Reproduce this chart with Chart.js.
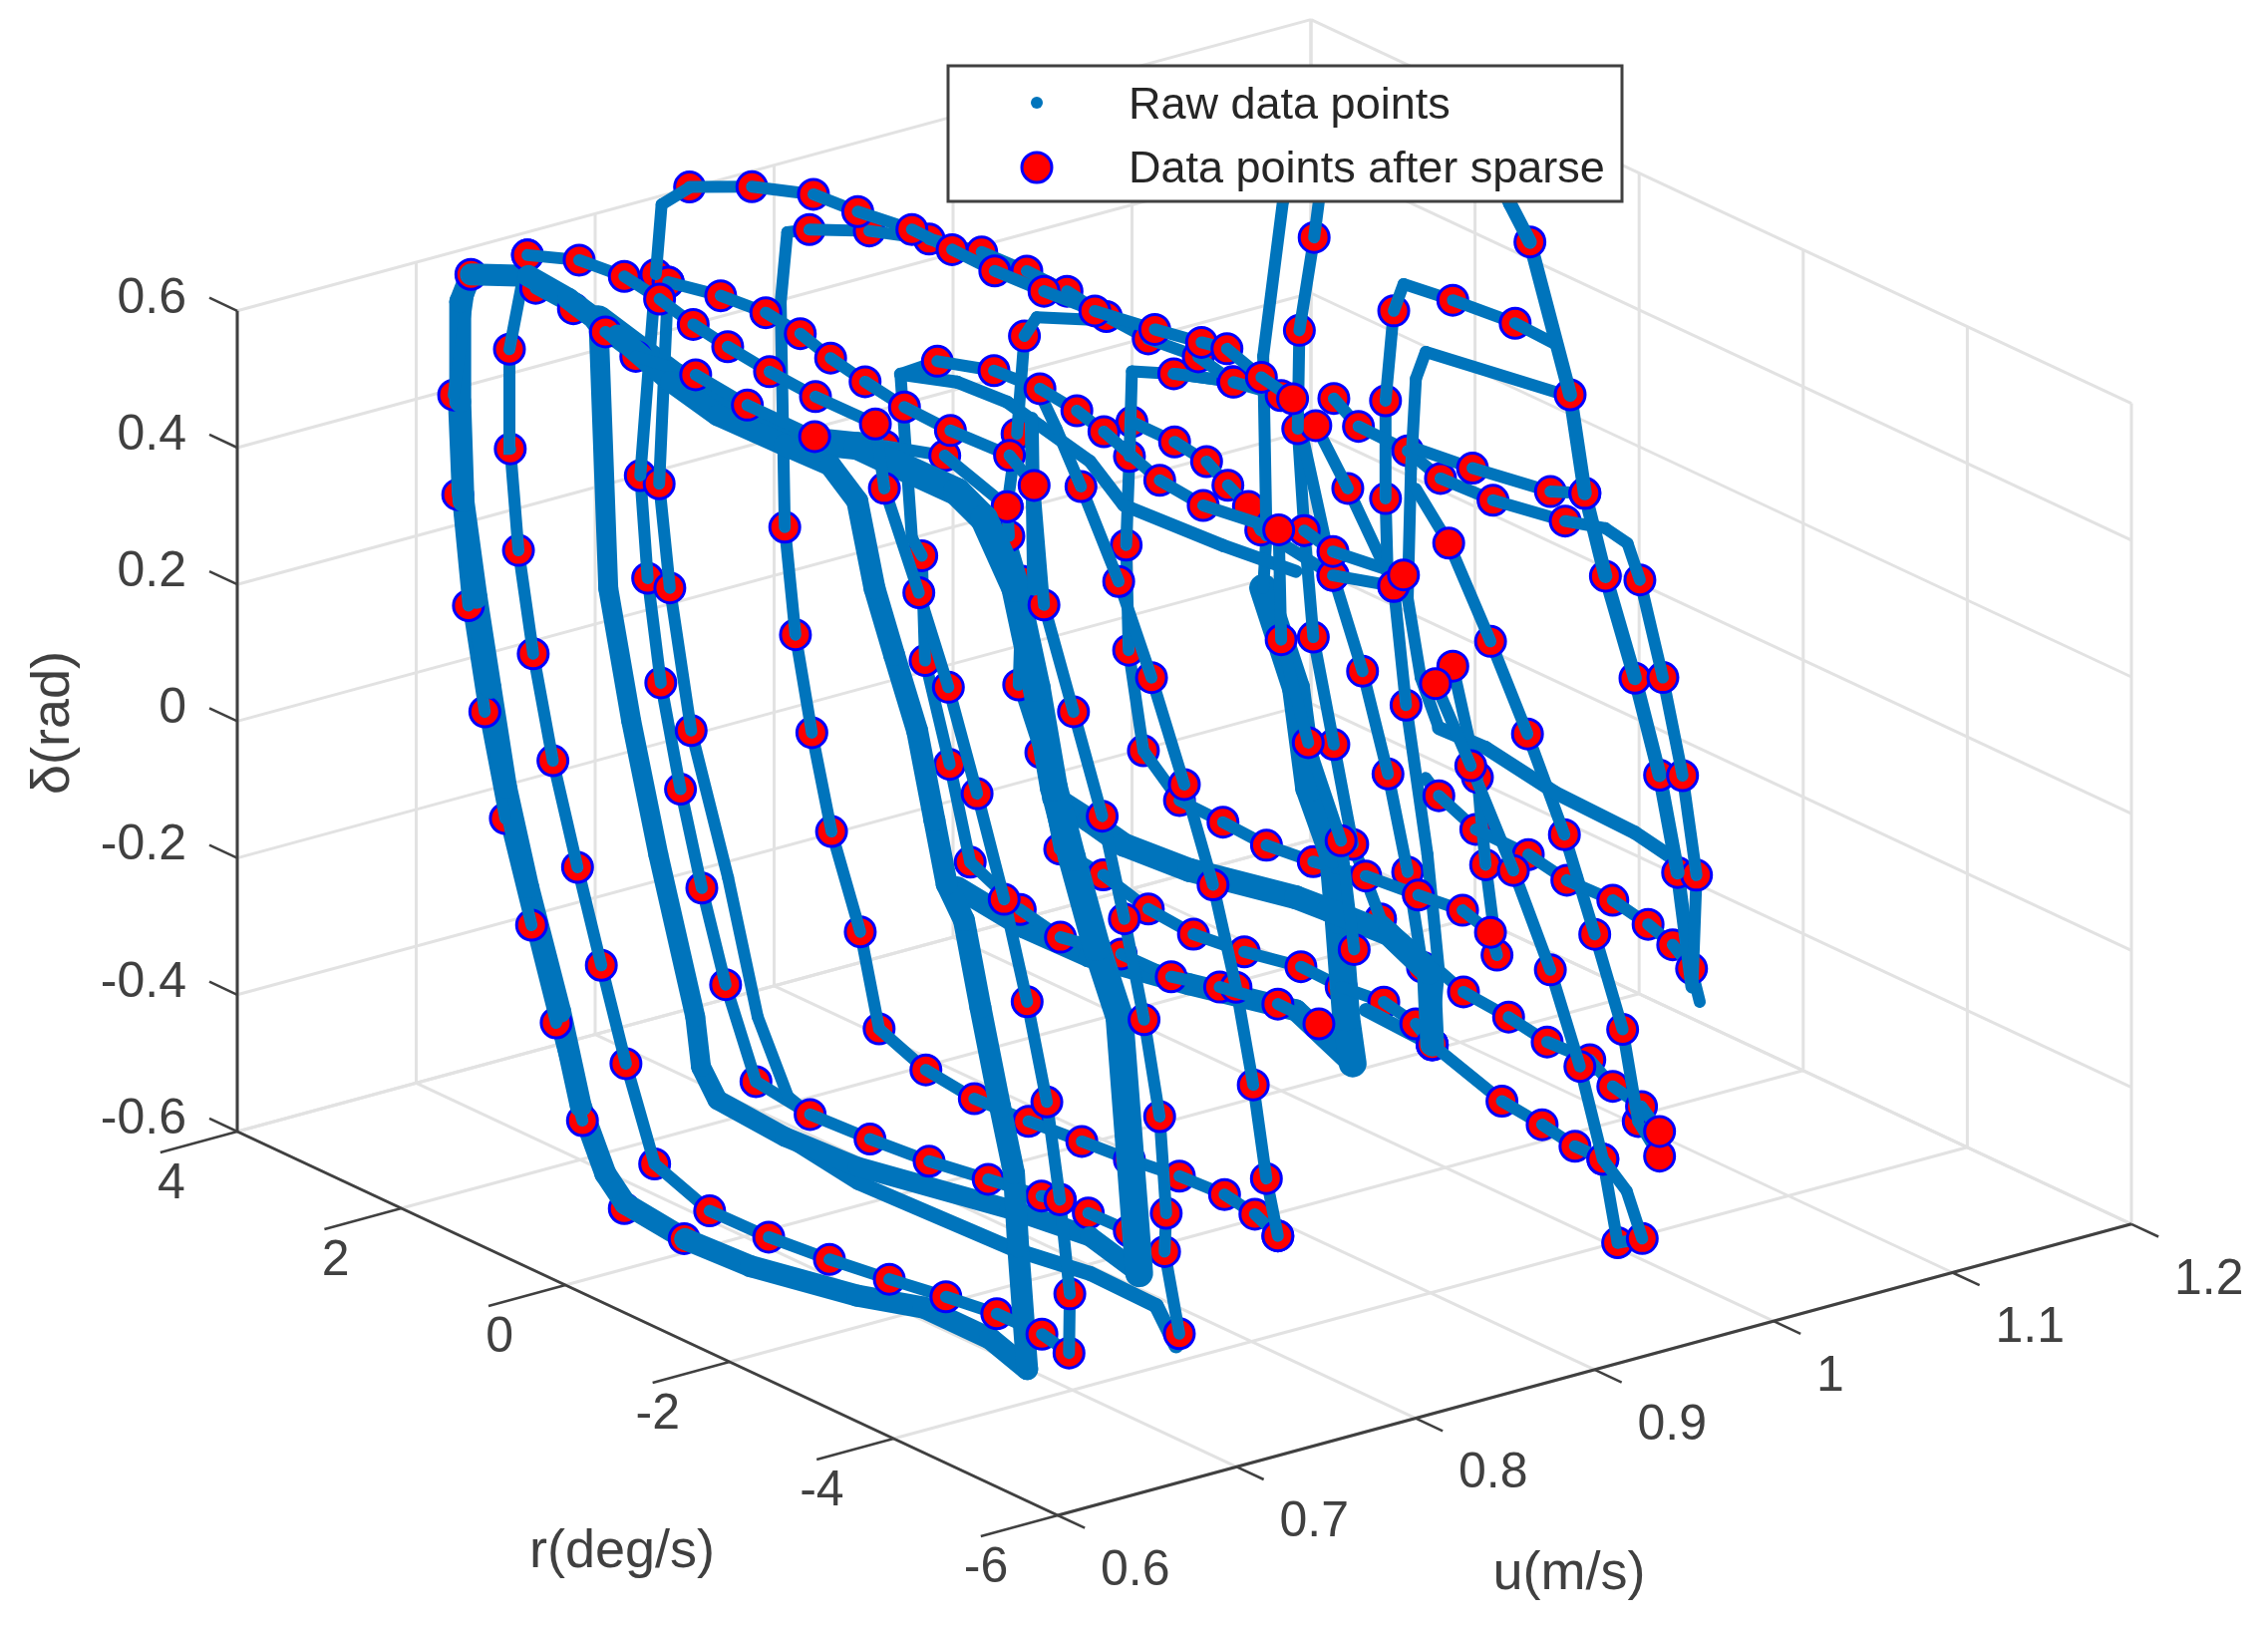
<!DOCTYPE html>
<html>
<head>
<meta charset="utf-8">
<title>Raw data points and data points after sparse</title>
<script src="https://cdn.jsdelivr.net/npm/chart.js@4"></script>
<style>
  html, body { margin: 0; background: #fff; }
  canvas { display: block; }
</style>
</head>
<body>
<canvas id="chart" width="2275" height="1636"></canvas>
<script>
// tick labels
const uTicks = [0.6, 0.7, 0.8, 0.9, 1, 1.1, 1.2];
const rTicks = [-6, -4, -2, 0, 2, 4];
const deltaTicks = [-0.6, -0.4, -0.2, 0, 0.2, 0.4, 0.6];

// trajectories, every one is a list of [r, delta]
const bandA = [[3.77,.581],[3.90,.534],[3.90,.388],[3.86,.244],[3.70,.112],[3.53,-.010],[3.34,-.145],[3.07,-.276],[2.68,-.436],[2.43,-.560],[2.13,-.642],[1.89,-.672],[1.16,-.683],[.36,-.678],[-.94,-.648],[-1.75,-.620],[-2.56,-.620],[-3.01,-.639],[-2.90,-.466],[-2.85,-.362],[-2.68,-.274],[-2.44,-.142],[-2.24,-.026],[-2.03,.015],[-1.88,.100],[-1.67,.219],[-1.39,.314],[-1.15,.398],[-.94,.514],[-.61,.548],[-.05,.546],[.76,.544],[1.33,.561],[1.98,.592],[2.58,.612],[3.07,.618],[3.77,.581]];
const redA = [[3.77,.581],[3.98,.393],[3.93,.250],[3.80,.095],[3.60,-.049],[3.35,-.191],[3.03,-.329],[2.73,-.455],[2.41,-.580],[1.90,-.680],[1.17,-.683]];
const redA2 = [[2.98,.605],[2.52,.601],[2.13,.589],[1.76,.574],[1.03,.588],[.40,.579],[-.42,.579]];
const loopB = [[3.08,.648],[2.45,.676],[1.90,.683],[1.47,.674],[1.06,.660],[.64,.651],[.13,.643],[-.43,.638],[-1.16,.639],[-1.27,.551],[-1.69,.422],[-2.05,.304],[-2.40,.168],[-2.73,.032],[-3.01,-.102],[-3.25,-.235],[-3.41,-.369],[-3.53,-.500],[-3.52,-.587],[-3.19,-.578],[-2.64,-.579],[-2.02,-.589],[-1.33,-.602],[-.60,-.614],[.14,-.623],[.86,-.625],[1.53,-.594],[1.88,-.467],[2.18,-.340],[2.47,-.213],[2.77,-.074],[3.01,.069],[3.19,.210],[3.29,.353],[3.30,.498],[3.08,.648]];

const bandC = [[3.96,.448],[3.84,.061],[3.56,-.117],[3.23,-.294],[2.78,-.506],[2.71,-.575],[2.51,-.612],[1.69,-.620],[.80,-.614],[-1.05,-.572],[-2.03,-.557],[-2.63,-.577]];
const bandC2 = [[1.69,-.620],[.80,-.637],[-1.10,-.628],[-2.03,-.611],[-2.84,-.613],[-3.08,-.658]];
const bandC3 = [[-2.63,-.577],[-2.39,-.216],[-2.11,-.129],[-1.81,-.015],[-1.59,.075],[-1.38,.209],[-1.12,.340],[-.74,.420],[-.41,.441],[.40,.440],[.80,.440],[1.69,.401],[2.99,.415],[3.96,.448]];
const branchC = [[-1.32,.599],[-1.35,.352]];
const edgeD = [[-2.51,-.522],[-2.01,-.524],[-1.67,-.523],[-1.44,-.531],[-.79,-.543],[-.07,-.557],[.65,-.565],[1.38,-.570],[2.04,-.559],[2.41,-.438],[2.70,-.313],[2.96,-.183],[3.20,-.041],[3.36,.103],[3.45,.248],[3.26,.553]];
const cornerD = [[3.26,.553],[3.19,.659],[2.85,.703]];
const topT = [[3.94,.607],[3.18,.650],[2.43,.681],[1.89,.686],[1.23,.697],[.74,.695],[.22,.693],[-.38,.697],[-1.00,.703],[-1.73,.717],[-2.30,.730],[-2.61,.738],[-3.03,.720],[-3.41,.710]];
const edgeE = [[3.11,.550],[3.22,.249],[3.09,.104],[2.83,-.090]];
const edgeEtail = [[2.83,-.090],[2.38,-.280],[2.02,-.463],[1.65,-.559],[1.38,-.570]];
const topF = [[3.11,.550],[2.47,.566],[1.92,.572],[1.50,.565],[1.13,.550],[.71,.539],[.23,.529],[-.33,.526],[-1.05,.530],[-1.35,.503],[-1.47,.335],[-1.83,.199],[-2.18,.066],[-2.45,-.069],[-2.69,-.203],[-2.88,-.334],[-2.96,-.471],[-2.94,-.528],[-3.12,-.638]];

const cornerG = [[3.57,.530],[3.84,.511],[3.92,.404],[3.87,.078]];
const edgeG = [[3.87,.078],[3.74,-.072],[3.54,-.204],[3.30,-.335],[2.95,-.462],[2.72,-.591],[2.15,-.619],[1.56,-.628],[.90,-.624],[.25,-.617],[-.33,-.611],[-.94,-.601],[-1.49,-.597],[-1.86,-.605],[-2.14,-.621]];
const topG = [[3.57,.530],[2.84,.569],[2.11,.598],[1.47,.615],[.92,.618],[.43,.616],[-.05,.606],[-.56,.602],[-1.17,.610],[-1.60,.597],[-2.18,.610]];
const rightG = [[-2.14,-.621],[-2.00,-.545],[-1.84,-.417],[-1.63,-.286],[-1.35,-.152],[-1.00,-.025],[-.60,.109],[-.20,.227],[.26,.340]];
const rightGtail = [[.26,.340],[.56,.408],[.76,.448]];
const cornerH = [[2.01,.425],[2.46,.381],[2.32,.149],[2.20,.130]];
const topH = [[2.01,.425],[1.32,.450],[.76,.455],[.31,.448],[-.02,.436],[-.70,.403],[-1.23,.396],[-2.15,.412],[-2.18,.253],[-2.51,.121],[-2.91,.000],[-3.07,-.150]];
const edgeH = [[2.20,.130],[2.16,-.021],[1.86,-.156],[1.61,-.285],[1.00,-.320],[.51,-.333],[-.23,-.316],[-.84,-.315],[-1.43,-.297],[-2.14,-.282],[-2.64,-.283]];
const shortH = [[2.65,.265],[1.92,.292],[1.16,.260]];
const topBandH = [[2.46,.381],[1.77,.408],[1.16,.413],[.76,.401],[.15,.383],[-.26,.342],[-1.47,.351],[-2.36,.363]];

const bandI = [[3.95,-.524],[3.14,-.537],[2.34,-.535],[1.12,-.507],[-.18,-.472],[-.87,-.511]];
const bandIup = [[-.87,-.511],[-.79,-.448],[-.70,-.311],[-.63,-.219],[-.34,-.138],[-.18,-.001],[.22,.123]];
const bandIthin = [[.22,.123],[.18,.202],[.22,.462],[-.02,.701],[-.09,.782]];
const cornerK = [[2.37,.395],[2.98,.364],[3.13,.328]];
const edgeK = [[3.13,.328],[3.22,.180],[3.34,.067],[3.32,.025],[3.16,-.032],[3.20,-.186],[2.93,-.270],[2.70,-.398],[2.17,-.406],[1.62,-.425],[1.07,-.431],[.45,-.422],[-.24,-.405],[-.73,-.407],[-1.25,-.400],[-1.64,-.410],[-1.84,-.429]];
const bottomK = [[-1.84,-.429],[-2.69,-.464],[-3.18,-.471],[-3.58,-.480],[-3.92,-.480]];
const bottomKhead = [[-1.03,-.424],[-1.84,-.429]];
const bottomKtail = [[-3.92,-.480],[-4.21,-.510],[-4.40,-.569]];
const cornerL = [[.59,.404],[1.31,.375],[1.82,.350],[1.85,.224]];
const edgeL = [[1.85,.224],[1.89,.092],[1.86,-.060],[1.68,-.197],[1.24,-.245],[.71,-.247],[.18,-.251],[-.39,-.243],[-1.03,-.228],[-1.67,-.220],[-2.21,-.212],[-2.55,-.225],[-2.63,-.254]];
const topL = [[1.31,.375],[.59,.404]];
const topM = [[1.82,.276],[1.30,.276],[.91,.269],[.65,.249],[.40,.232],[.25,.206],[-.63,.189],[-1.37,.215]];
const topN = [[-.28,.235],[-.63,.224],[-1.49,.238]];
const bandO = [[2.77,-.327],[2.34,-.336],[1.92,-.348],[1.12,-.340],[-.18,-.307],[-.58,-.303],[-1.31,-.297],[-1.80,-.326],[-1.84,-.429]];
const edgeS = [[-1.88,.101],[-2.31,.005],[-2.83,-.119],[-3.28,-.239],[-3.64,-.360],[-3.92,-.480],[-4.10,-.592],[-4.40,-.569]];

const tallHead = [[1.64,.614],[1.78,.477]];
const tallP = [[1.78,.477],[1.96,.331],[1.98,.186],[1.90,.042],[1.79,-.108],[1.54,-.251],[1.31,-.384],[.97,-.474],[-.04,-.524],[-.59,-.530],[-1.06,-.540],[-1.58,-.537],[-1.86,-.560],[-2.21,-.570],[-2.43,-.594]];
const edgeQhead = [[1.94,.188],[1.55,-.004]];
const edgeQ = [[1.55,-.004],[1.19,-.124],[.88,-.257],[.64,-.387],[.46,-.516],[.34,-.623]];
const edgeR = [[1.76,.203],[1.37,.133],[.81,.021],[.66,-.144]];
const edgeRtail = [[.66,-.144],[.40,-.347],[.26,-.509],[.34,-.623]];
const cornerS = [[.09,.480],[.69,.470],[.81,.424]];
const edgeS2 = [[.81,.424],[.91,.287],[.91,.144]];
const edgeS2tail = [[.91,.144],[.88,.014]];
const topS = [[.09,.480],[-.67,.489]];
const topStail = [[-.67,.489],[-1.16,.486]];
const rightHead = [[-.31,.723],[-.61,.660],[-.85,.618]];
const rightW = [[-.85,.618],[-1.34,.422],[-1.52,.288],[-1.77,.181],[-2.13,.052],[-2.43,-.073],[-2.65,-.203]];
const rightWtail = [[-2.65,-.203],[-2.83,-.360]];
const topY = [[1.54,.255],[1.24,.231],[.64,.229],[.24,.211],[-.40,.215],[-1.28,.234]];
const topYturn = [[-1.28,.234],[-1.77,.251],[-2.04,.244],[-2.19,.199]];
const rightY = [[-2.19,.199],[-2.47,.072],[-2.71,-.058],[-2.88,-.194]];
const rightYtail = [[-2.88,-.194],[-2.83,-.360]];
const topZhead = [[.54,.238],[-.15,.248]];
const topZ = [[-.15,.248],[-1.10,.267],[-1.52,.288]];
const stepN = [[-1.32,.419],[.42,.386],[.54,.340],[.60,.205],[.64,.013],[.48,-.094],[.26,-.155]];
const stepNband = [[.26,-.155],[-.31,-.152],[-1.16,-.170],[-2.13,-.174],[-2.62,-.186]];
const edgeJhead = [[.54,.179],[.14,.122]];
const edgeJ = [[.14,.122],[-.37,.007],[-.82,-.103],[-1.27,-.225],[-1.64,-.350],[-1.98,-.470],[-2.17,-.594],[-2.43,-.630]];
const edgeV = [[.09,-.055],[-.21,-.201],[-.31,-.323]];
const edgeVtail = [[-.31,-.323],[-.45,-.447]];
const bottomIhead = [[.42,-.237],[.26,-.254]];
const bottomI = [[.26,-.254],[-.19,-.278],[-.83,-.279],[-1.30,-.290],[-1.86,-.288],[-2.29,-.299],[-2.59,-.312],[-2.82,-.334]];
const bottomItail = [[-2.82,-.334],[-2.92,-.377]];

const legendLabels = ["Raw data points", "Data points after sparse"];

// list, u, line width, carries sparse markers
const chains = [
  [bandA, 0.72, 22, false], [redA, 0.72, 12, true], [redA2, 0.72, 12, true], [loopB, 0.72, 12, true],
  [bandC, 0.8, 20, false], [bandC2, 0.8, 15, false], [bandC3, 0.8, 28, false], [branchC, 0.8, 14, false],
  [edgeD, 0.8, 12, true], [cornerD, 0.8, 12, false], [topT, 0.85, 12, true],
  [edgeE, 0.8, 12, true], [edgeEtail, 0.8, 12, false], [topF, 0.8, 12, true],
  [cornerG, 0.9, 12, false], [edgeG, 0.9, 12, true], [topG, 0.9, 12, true], [rightG, 0.9, 12, true], [rightGtail, 0.9, 12, false],
  [cornerH, 0.9, 12, false], [topH, 0.9, 12, true], [edgeH, 0.9, 12, true], [shortH, 0.9, 12, true], [topBandH, 0.9, 13, false],
  [bandI, 1, 22, false], [bandIup, 1, 28, false], [bandIthin, 1, 12, false],
  [cornerK, 1, 12, false], [edgeK, 1, 12, true], [bottomK, 1, 12, true], [bottomKhead, 1, 14, false], [bottomKtail, 1, 12, false],
  [cornerL, 1, 12, false], [edgeL, 1, 12, true], [topL, 1, 12, true], [topM, 1, 12, true], [topN, 1, 12, true],
  [bandO, 1, 24, false], [edgeS, 1, 12, true],
  [tallHead, 1.1, 12, false], [tallP, 1.1, 12, true], [edgeQhead, 1.1, 12, false], [edgeQ, 1.1, 12, true],
  [edgeR, 1.1, 12, true], [edgeRtail, 1.1, 12, false], [cornerS, 1.1, 12, false], [edgeS2, 1.1, 12, true], [edgeS2tail, 1.1, 12, false],
  [topS, 1.1, 12, true], [topStail, 1.1, 12, false], [rightHead, 1.1, 14, false], [rightW, 1.1, 14, true], [rightWtail, 1.1, 14, false],
  [topY, 1.1, 12, true], [topYturn, 1.1, 12, false], [rightY, 1.1, 12, true], [rightYtail, 1.1, 12, false],
  [topZhead, 1.1, 12, false], [topZ, 1.1, 12, true], [stepN, 1.1, 12, false], [stepNband, 1.1, 14, false],
  [edgeJhead, 1.1, 12, false], [edgeJ, 1.1, 12, true], [edgeV, 1.1, 12, true], [edgeVtail, 1.1, 12, false],
  [bottomIhead, 1.1, 12, false], [bottomI, 1.1, 12, true], [bottomItail, 1.1, 12, false]
];

const BLUE = "#0074bc";
const AXIS = "#404040";
const GRID = "#e2e2e2";

// MATLAB style view of the box, turned into the flat plane the chart scales work in
function planeX(u, r) {
  return 238 + 1795 * (u - 0.6) + 82.3 * (4 - r);
}
function planeY(u, r, d) {
  return 1135 - 487 * (u - 0.6) + 38.5 * (4 - r) - 686 * (d + 0.6);
}
// bigger is nearer to the viewer
function nearness(u, r, d) {
  return -(u - 0.6) / 0.6 - (r + 6) / 10 + 0.8 * (d + 0.6) / 1.2;
}

const marks = [];
chains.forEach(([pts, u, width, sparse]) => {
  for (let i = 0; i + 1 < pts.length; i++) {
    const a = pts[i], b = pts[i + 1];
    marks.push({
      near: nearness(u, (a[0] + b[0]) / 2, (a[1] + b[1]) / 2),
      set: {
        label: legendLabels[0],
        showLine: true,
        borderColor: BLUE,
        borderWidth: width,
        borderCapStyle: "round",
        pointRadius: 0,
        data: [a, b].map(p => ({ x: planeX(u, p[0]), y: planeY(u, p[0], p[1]) }))
      }
    });
  }
  if (sparse) {
    pts.forEach(p => {
      marks.push({
        near: nearness(u, p[0], p[1]),
        set: {
          label: legendLabels[1],
          showLine: false,
          pointRadius: 15,
          pointBackgroundColor: "#ff0000",
          pointBorderColor: "#0000ff",
          pointBorderWidth: 3,
          data: [{ x: planeX(u, p[0]), y: planeY(u, p[0], p[1]) }]
        }
      });
    });
  }
});
// first dataset ends up on top
marks.sort((a, b) => b.near - a.near);

function drawSegment(ctx, scales, a, b) {
  ctx.beginPath();
  ctx.moveTo(scales.x.getPixelForValue(a[0]), scales.y.getPixelForValue(a[1]));
  ctx.lineTo(scales.x.getPixelForValue(b[0]), scales.y.getPixelForValue(b[1]));
  ctx.stroke();
}

const boxGrid = {
  id: "boxGrid",
  beforeDatasetsDraw(chart) {
    const { ctx, scales } = chart;
    const line = (a, b) => drawSegment(ctx, scales,
      [planeX(a[0], a[1]), planeY(a[0], a[1], a[2])],
      [planeX(b[0], b[1]), planeY(b[0], b[1], b[2])]);
    ctx.save();
    ctx.strokeStyle = GRID;
    ctx.lineWidth = 3;
    uTicks.forEach(u => {
      line([u, -6, -0.6], [u, 4, -0.6]);
      line([u, 4, -0.6], [u, 4, 0.6]);
    });
    rTicks.forEach(r => {
      line([0.6, r, -0.6], [1.2, r, -0.6]);
      line([1.2, r, -0.6], [1.2, r, 0.6]);
    });
    deltaTicks.forEach(d => {
      line([0.6, 4, d], [1.2, 4, d]);
      line([1.2, 4, d], [1.2, -6, d]);
    });
    ctx.restore();
  }
};

const boxAxes = {
  id: "boxAxes",
  afterDatasetsDraw(chart) {
    const { ctx, scales } = chart;
    const at = (u, r, d) => [planeX(u, r), planeY(u, r, d)];
    const line = (a, b) => drawSegment(ctx, scales, a, b);
    const text = (str, p, dx, dy, align) => {
      ctx.textAlign = align;
      ctx.fillText(str, scales.x.getPixelForValue(p[0]) + dx, scales.y.getPixelForValue(p[1]) + dy);
    };
    ctx.save();
    ctx.strokeStyle = AXIS;
    ctx.fillStyle = AXIS;
    ctx.lineWidth = 3;
    line(at(0.6, 4, -0.6), at(0.6, 4, 0.6));
    line(at(0.6, 4, -0.6), at(0.6, -6, -0.6));
    line(at(0.6, -6, -0.6), at(1.2, -6, -0.6));
    ctx.lineWidth = 2.5;
    deltaTicks.forEach(d => line(at(0.6, 4, d), at(0.6, 4.34, d)));
    rTicks.forEach(r => line(at(0.6, r, -0.6), at(0.557, r, -0.6)));
    uTicks.forEach(u => line(at(u, -6, -0.6), at(u, -6.33, -0.6)));

    ctx.textBaseline = "middle";
    ctx.font = '50px "Liberation Sans"';
    deltaTicks.forEach(d => text(String(d), at(0.6, 4, d), -51, -12, "right"));
    rTicks.forEach(r => text(String(r), at(0.6, r, -0.6), r < 0 ? -72 : -66, 53, "center"));
    uTicks.forEach(u => text(String(u), at(u, -6, -0.6), 43, 56, "left"));

    ctx.font = '54px "Liberation Sans"';
    ctx.textAlign = "center";
    ctx.fillText("r(deg/s)", scales.x.getPixelForValue(624), scales.y.getPixelForValue(1557));
    ctx.fillText("u(m/s)", scales.x.getPixelForValue(1574), scales.y.getPixelForValue(1579));
    ctx.translate(scales.x.getPixelForValue(54), scales.y.getPixelForValue(725));
    ctx.rotate(-Math.PI / 2);
    ctx.fillText("δ(rad)", 0, 0);
    ctx.restore();
  }
};

const boxLegend = {
  id: "boxLegend",
  afterDraw(chart) {
    const { ctx } = chart;
    ctx.save();
    ctx.fillStyle = "#fff";
    ctx.strokeStyle = AXIS;
    ctx.lineWidth = 3;
    ctx.fillRect(951, 66, 676, 136);
    ctx.strokeRect(951, 66, 676, 136);
    ctx.fillStyle = BLUE;
    ctx.beginPath();
    ctx.arc(1040, 103, 6, 0, Math.PI * 2);
    ctx.fill();
    ctx.fillStyle = "#ff0000";
    ctx.strokeStyle = "#0000ff";
    ctx.beginPath();
    ctx.arc(1040, 168, 15, 0, Math.PI * 2);
    ctx.fill();
    ctx.stroke();
    ctx.fillStyle = "#262626";
    ctx.font = '45px "Liberation Sans"';
    ctx.textAlign = "left";
    ctx.textBaseline = "middle";
    ctx.fillText(legendLabels[0], 1132, 107);
    ctx.fillText(legendLabels[1], 1132, 171);
    ctx.restore();
  }
};

new Chart(document.getElementById("chart").getContext("2d"), {
  type: "scatter",
  data: { datasets: marks.map(m => m.set) },
  options: {
    responsive: false,
    animation: false,
    events: [],
    layout: { padding: 0, autoPadding: false },
    plugins: { legend: { display: false }, tooltip: { enabled: false } },
    scales: {
      x: { type: "linear", display: false, min: 0, max: 2275 },
      y: { type: "linear", display: false, min: 0, max: 1636, reverse: true }
    }
  },
  plugins: [boxGrid, boxAxes, boxLegend]
});
</script>
</body>
</html>
